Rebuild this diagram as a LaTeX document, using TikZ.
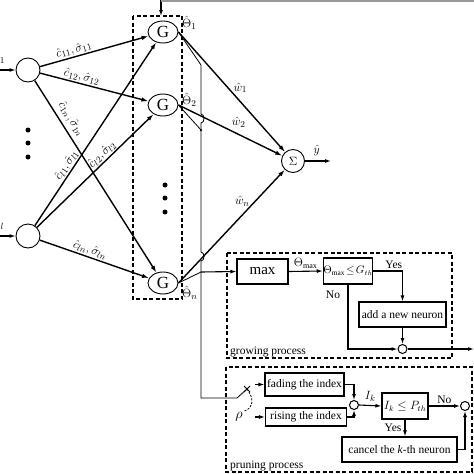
\documentclass[tikz,border=0pt]{standalone}
\usepackage{fontspec}
\setmainfont{Liberation Serif}
\usetikzlibrary{arrows.meta,shapes.geometric}
\begin{document}
\begin{tikzpicture}[x=1pt,y=-1pt,
  conn/.style={line width=1.4pt,-{Latex[length=7pt,width=4.5pt]}},
  thinl/.style={line width=0.8pt},
  arr/.style={line width=1.1pt,-{Latex[length=6pt,width=4pt]}},
  gnode/.style={draw,ellipse,line width=0.9pt,minimum width=30pt,minimum height=22pt,inner sep=0pt,font=\fontsize{17}{17}\selectfont},
  inode/.style={draw,circle,line width=0.9pt,minimum size=24pt,inner sep=0pt},
  pbox/.style={draw,line width=1.1pt,inner sep=0pt,font=\fontsize{11.5}{13}\selectfont},
  dbox/.style={draw,line width=1.3pt,dash pattern=on 4pt off 2.5pt},
  lab/.style={font=\fontsize{11.5}{13}\selectfont,inner sep=1pt},
  mlab/.style={font=\fontsize{13}{14}\selectfont,inner sep=1pt},
  junc/.style={draw,circle,line width=1pt,minimum size=9pt,inner sep=0pt,fill=white},
  bigdot/.style={fill,circle,inner sep=0pt,minimum size=5pt},
  smalldot/.style={fill,circle,inner sep=0pt,minimum size=2.5pt}
]
\useasboundingbox (0,0) rectangle (474,474);

% input neurons
\node[inode] (i1) at (28,70) {};
\node[inode] (il) at (28,236) {};
\coordinate (x1) at (0,70);
\coordinate (xl) at (0,236);
\draw[arr] (x1) -- (i1);
\draw[arr] (xl) -- (il);
\node[mlab] (x1lab) at (-1,60) {$x_1$};
\node[mlab] (xllab) at (-1,226) {$x_l$};
\node[bigdot] (d1) at (28,130) {};
\node[bigdot] (d2) at (28,143) {};
\node[bigdot] (d3) at (28,157) {};

% G column
\draw[dbox] (133,16) rectangle (182,299);
\node[gnode] (g1) at (163,32) {G};
\node[gnode] (g2) at (163,105) {G};
\node[gnode] (gn) at (163,283) {G};
\node[bigdot] (e1) at (165,185) {};
\node[bigdot] (e2) at (165,198) {};
\node[bigdot] (e3) at (165,212) {};
\node[mlab,anchor=west] (t1) at (181,23) {$\hat\Theta_1$};
\node[mlab,anchor=west] (t2) at (181,100) {$\hat\Theta_2$};
\node[mlab,anchor=west] (tn) at (181,293) {$\hat\Theta_n$};

% top feedback
\coordinate (top) at (161,0);
\coordinate (gtop) at (161,16);
\draw[arr] (top) -- (gtop);
\draw[black!40,line width=2.5pt] (161,0.5) -- (474,0.5);

% input -> G
\draw[conn] (i1) -- (g1) node[mlab,pos=0.33,sloped,above] {$\hat c_{11},\hat\sigma_{11}$};
\draw[conn] (i1) -- (g2) node[mlab,pos=0.37,sloped,above] {$\hat c_{12},\hat\sigma_{12}$};
\draw[conn] (i1) -- (gn) node[mlab,pos=0.23,sloped,above=3pt] {$\hat c_{1n},\hat\sigma_{1n}$};
\draw[conn] (il) -- (g1) node[mlab,pos=0.31,sloped,above] {$\hat c_{l1},\hat\sigma_{l1}$};
\draw[conn] (il) -- (g2) node[mlab,pos=0.6,sloped,above] {$\hat c_{l2},\hat\sigma_{l2}$};
\draw[conn] (il) -- (gn) node[mlab,pos=0.44,sloped,above] {$\hat c_{ln},\hat\sigma_{ln}$};

% output layer
\node[draw,circle,line width=0.9pt,minimum size=23pt,inner sep=0pt,font=\fontsize{13}{13}\selectfont] (sum) at (293,161) {$\Sigma$};
\draw[conn] (g1.east) -- (sum) node[mlab,pos=0.58,above=7pt] {$\hat w_1$};
\draw[conn] (g2.east) -- (sum) node[mlab,pos=0.58,above=5pt] {$\hat w_2$};
\draw[conn] (gn.east) -- (sum) node[mlab,pos=0.6,above=7pt] {$\hat w_n$};
\coordinate (yout) at (331,161);
\draw[arr] (sum) -- (yout) node[mlab,pos=0.45,above=4pt] {$\hat y$};

% bus
\coordinate (b1) at (201,65);
\coordinate (bj2) at (201,130);
\coordinate (bjn) at (201,272);
\coordinate (sw1) at (237,398);
\coordinate (sw2) at (247,389);
\draw[thinl] (g1.east) -- (b1);
\draw[thinl] (b1) -- (201,114) .. controls (205,114) and (205,123) .. (201,123)
  -- (201,252) .. controls (205,252) and (205,261) .. (201,261) -- (201,398) -- (sw1) -- (sw2);
\draw[thinl] (g2.east) -- (bj2);
\node[smalldot] (bj2dot) at (bj2) {};
\draw[thinl] (gn.east) -- (bjn);

% growing process
\draw[dbox] (227,253) rectangle (452,358);
\node[lab,anchor=south west] (glab) at (229,358) {growing process};
\node[pbox,minimum width=51pt,minimum height=25pt,font=\fontsize{15}{15}\selectfont] (max) at (262.5,271.5) {max};
\node[pbox,minimum width=48pt,minimum height=26pt,font=\fontsize{10.5}{12}\selectfont] (cmp) at (348,271) {$\Theta_{\max}\!\le\! G_{th}$};
\node[pbox,minimum width=87pt,minimum height=25pt] (add) at (402.5,314.5) {add a new neuron};
\node[junc] (jg) at (402.5,349) {};
\draw[arr] (bjn) -- (max.west);
\draw[arr] (max.east) -- (cmp.west) node[lab,midway,above=1pt] {$\Theta_{\max}$};
\draw[arr] (cmp.east) -| (add.north) node[lab,pos=0.35,above=1pt] {Yes};
\draw[arr] (add.south) -- (jg.north);
\draw[arr] (cmp.south) |- (jg.west);
\node[lab] (nolab) at (333,295) {No};
\coordinate (gout) at (474,349);
\draw[arr] (jg.east) -- (gout);

% pruning process
\draw[dbox] (226,367) rectangle (472,472);
\node[lab,anchor=south west] (plab) at (229,472) {pruning process};
\node[pbox,minimum width=79pt,minimum height=23pt] (fade) at (304.5,384.5) {fading the index};
\node[pbox,minimum width=81pt,minimum height=18pt] (rise) at (306,417) {rising the index};
\node[junc] (jp) at (354,405) {};
\node[pbox,minimum width=46pt,minimum height=26pt] (cmp2) at (405,406) {$I_k\le P_{th}$};
\node[junc] (jq) at (465,406) {};
\node[pbox,minimum width=115pt,minimum height=25pt] (cancel) at (399.5,449.5) {cancel the \textit{k}-th neuron};
\coordinate (fin) at (255,384.5);
\coordinate (rin) at (255,417);
\draw[arr] (fin) -- (fade.west);
\draw[arr] (rin) -- (rise.west);
\draw[arr] (fade.east) -| (jp.north);
\draw[arr] (rise.east) -| (jp.south);
\draw[arr] (jp.east) -- (cmp2.west) node[mlab,midway,above=2pt] {$I_k$};
\draw[arr] (cmp2.east) -- (jq.west) node[lab,midway,above=1pt] {No};
\draw[arr] (cmp2.south) -- (cmp2.south |- cancel.north) node[lab,midway,left=2pt] {Yes};
\draw[arr] (cancel.east) -| (jq.south);

% switch
\draw[thinl] (244,386) -- (250,392);
\draw[thinl] (250,386) -- (244,392);
\node[mlab,font=\fontsize{14}{14}\selectfont] (rho) at (239,417) {$\rho$};
\draw[thinl,dash pattern=on 2pt off 1.5pt] (sw2) .. controls (254,398) and (254,408) .. (rho.north east);
\end{tikzpicture}
\end{document}
